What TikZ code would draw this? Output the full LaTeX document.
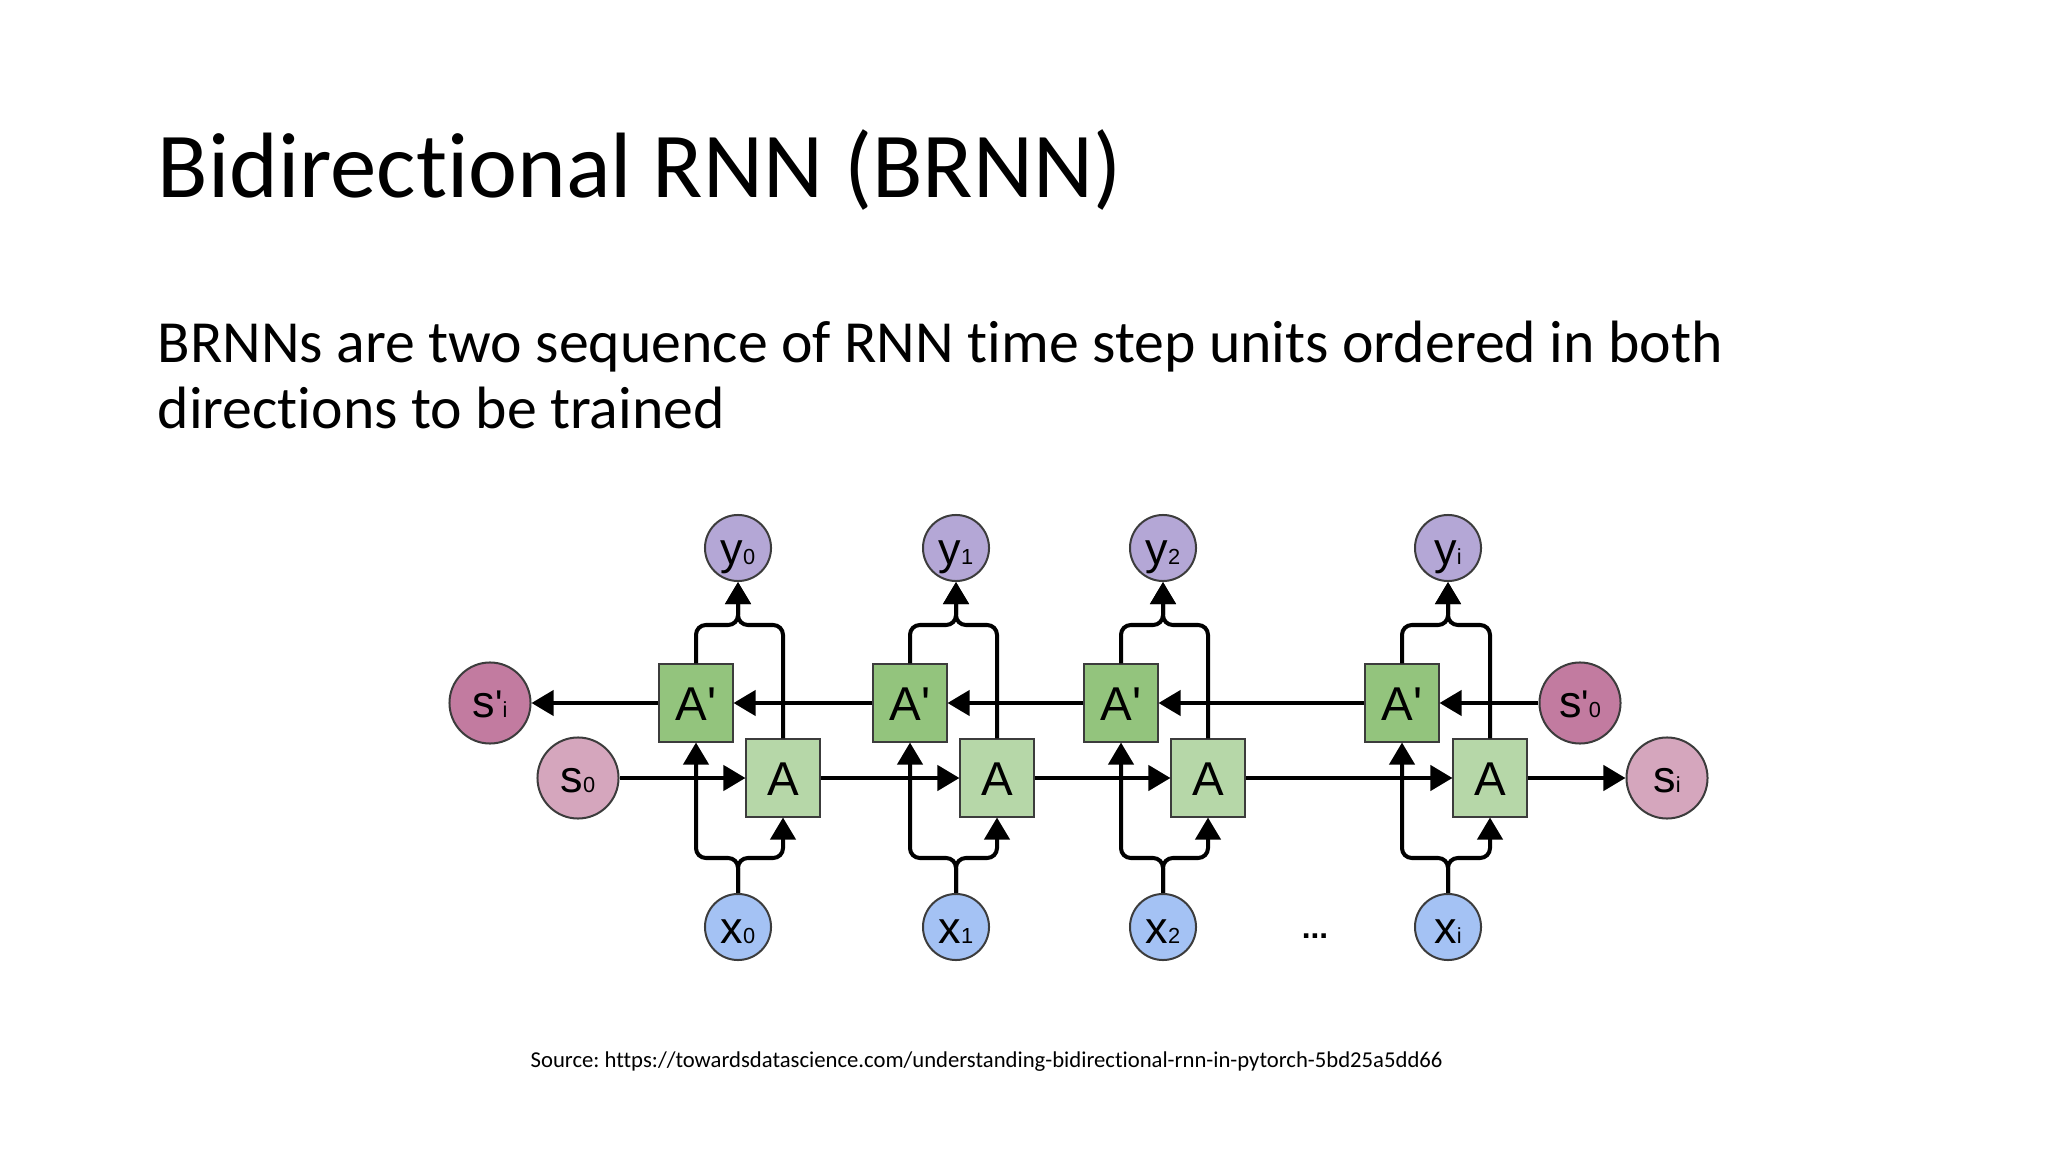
\documentclass[tikz,border=0pt]{standalone}
\usepackage{fontspec}
\setmainfont{Carlito}[Ligatures={TeX,NoCommon}]
\newfontfamily\arialf[Ligatures=TeXOff]{Liberation Sans}
\usetikzlibrary{arrows.meta}
\definecolor{ycol}{HTML}{B4A7D6}
\definecolor{xcol}{HTML}{A4C2F4}
\definecolor{spcol}{HTML}{C27BA0}
\definecolor{scol}{HTML}{D5A6BD}
\definecolor{apcol}{HTML}{93C47D}
\definecolor{acol}{HTML}{B6D7A8}
\definecolor{bordc}{HTML}{3C3C3C}
\newcommand\brnnM[1]{{\fontsize{12.8}{13}\selectfont #1}}
\newcommand\brnnS[1]{{\fontsize{6.2}{7}\selectfont #1}}
\newcommand\brnnP{{\fontsize{11}{12}\selectfont '}}
\frenchspacing
\begin{document}
\begin{tikzpicture}[x=0.01cm,y=-0.01cm,
  circ/.style={circle, draw=bordc, line width=0.57pt, minimum size=0.66cm, inner sep=0pt,
    text height=0.32cm, text depth=0cm, font=\arialf},
  bigcirc/.style={circ, minimum size=0.81cm, text height=0.29cm},
  unitbox/.style={rectangle, draw=bordc, line width=0.57pt, minimum width=0.73cm,
    minimum height=0.77cm, inner sep=0pt, text height=0.35cm, text depth=0cm,
    font=\arialf\fontsize{13.5}{14}\selectfont},
  conn/.style={line width=1.14pt, -{Triangle[length=0.22cm,width=0.25cm]}, rounded corners=2.8pt},
  slidetext/.style={anchor=base west, inner sep=0pt}]
\useasboundingbox (0,0) rectangle (2048,1152);

% texts
\node[slidetext, font=\fontsize{26.4}{32}\selectfont] (title) at (157,198) {Bidirectional RNN (BRNN)};
\node[slidetext, font=\fontsize{16.99}{19}\selectfont] (body1) at (157,363) {BRNNs are two sequence of RNN time step units ordered in both};
\node[slidetext, font=\fontsize{16.99}{19}\selectfont] (body2) at (157,429) {directions to be trained};
\node[slidetext, font=\fontsize{6.45}{8}\selectfont] (src) at (530,1067) {Source: https://towardsdatascience.com/understanding-bidirectional-rnn-in-pytorch-5bd25a5dd66};

% output circles
\node[circ, fill=ycol] (y1) at (738,548) {\brnnM{y}\brnnS{0}};
\node[circ, fill=ycol] (y2) at (956,548) {\brnnM{y}\brnnS{1}};
\node[circ, fill=ycol] (y3) at (1163,548) {\brnnM{y}\brnnS{2}};
\node[circ, fill=ycol] (y4) at (1448,548) {\brnnM{y}\brnnS{i}};
% input circles
\node[circ, fill=xcol] (x1) at (738,927) {\brnnM{x}\brnnS{0}};
\node[circ, fill=xcol] (x2) at (956,927) {\brnnM{x}\brnnS{1}};
\node[circ, fill=xcol] (x3) at (1163,927) {\brnnM{x}\brnnS{2}};
\node[circ, fill=xcol] (x4) at (1448,927) {\brnnM{x}\brnnS{i}};
\node[anchor=base, inner sep=0pt, font=\arialf\bfseries\fontsize{9}{10}\selectfont] (dots) at (1315,938) {...};
% backward units
\node[unitbox, fill=apcol] (ap1) at (696,703) {A'};
\node[unitbox, fill=apcol] (ap2) at (910,703) {A'};
\node[unitbox, fill=apcol] (ap3) at (1121,703) {A'};
\node[unitbox, fill=apcol] (ap4) at (1402,703) {A'};
% forward units
\node[unitbox, fill=acol] (a1) at (783,778) {A};
\node[unitbox, fill=acol] (a2) at (997,778) {A};
\node[unitbox, fill=acol] (a3) at (1208,778) {A};
\node[unitbox, fill=acol] (a4) at (1490,778) {A};
% states
\node[bigcirc, fill=spcol] (spi) at (490,703) {\brnnM{s}\brnnP\brnnS{i}};
\node[bigcirc, fill=scol] (s0) at (578,778) {\brnnM{s}\brnnS{0}};
\node[bigcirc, fill=spcol] (sp0) at (1580,703) {\brnnM{s}\brnnP\brnnS{0}};
\node[bigcirc, fill=scol] (si) at (1667,778) {\brnnM{s}\brnnS{i}};

% junction coordinates
\foreach \k/\xx in {1/738,2/956,3/1163,4/1448}{
  \coordinate (t\k) at (\xx,625);
  \coordinate (b\k) at (\xx,858);
}
\foreach \k in {1,2,3,4}{
  \draw[conn] (ap\k.north) -- (ap\k.north |- t\k) -- (t\k) -- (y\k.south);
  \draw[conn] (a\k.north) -- (a\k.north |- t\k) -- (t\k) -- (y\k.south);
  \draw[conn] (x\k.north) -- (b\k) -- (b\k -| ap\k.south) -- (ap\k.south);
  \draw[conn] (x\k.north) -- (b\k) -- (b\k -| a\k.south) -- (a\k.south);
}
% backward chain
\draw[conn] (sp0) -- (ap4);
\draw[conn] (ap4) -- (ap3);
\draw[conn] (ap3) -- (ap2);
\draw[conn] (ap2) -- (ap1);
\draw[conn] (ap1) -- (spi);
% forward chain
\draw[conn] (s0) -- (a1);
\draw[conn] (a1) -- (a2);
\draw[conn] (a2) -- (a3);
\draw[conn] (a3) -- (a4);
\draw[conn] (a4) -- (si);
\end{tikzpicture}
\end{document}
